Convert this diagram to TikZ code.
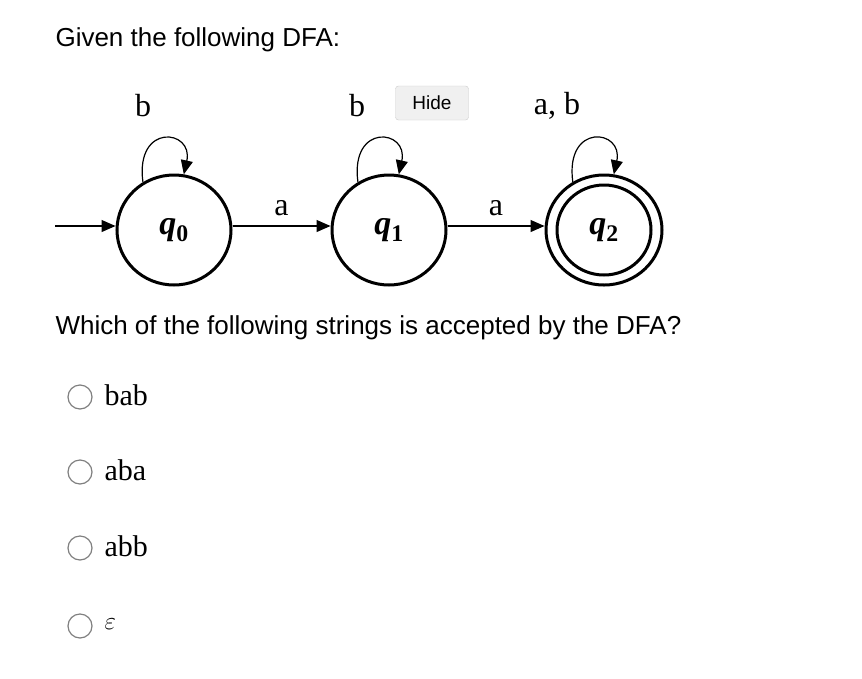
\documentclass[tikz,border=0pt]{standalone}
\usepackage{fontspec}
\setmainfont{Liberation Serif}
\newfontfamily\uisans{Liberation Sans}
\usetikzlibrary{arrows.meta,shapes.geometric}
\begin{document}
\begin{tikzpicture}[x=1pt,y=-1pt,
  st/.style={ellipse,draw,line width=3pt,minimum width=114pt,minimum height=110pt,inner sep=0pt,font=\fontsize{34}{34}\selectfont},
  edge/.style={-{Triangle[length=14pt,width=12pt]},line width=1.2pt},
  lab/.style={font=\fontsize{32}{32}\selectfont},
  hd/.style={font=\uisans\fontsize{26}{26}\selectfont,anchor=west},
  opt/.style={circle,draw=gray,line width=1.2pt,minimum size=24pt,inner sep=0pt},
  optl/.style={font=\fontsize{30}{30}\selectfont,anchor=west}]
\useasboundingbox (0,0) rectangle (862,678);
\fill[white] (0,0) rectangle (862,678);
\newcommand\qlab[1]{\textbf{\textit{q}}\textsubscript{\textbf{#1}}}
\node[hd] (t1) at (52,40) {Given the following DFA:};
\node[st] (q0) at (174,230) {\qlab{0}};
\node[st] (q1) at (389,230) {\qlab{1}};
\node[st,minimum width=116pt] (q2) at (604,230) {\qlab{2}};
\node[ellipse,draw,line width=3pt,minimum width=94pt,minimum height=90pt] (q2i) at (604,230) {};
\coordinate (s) at (55,226);
\draw[edge] (s) -- (q0.west |- s);
\draw[edge] (q0.east |- s) -- node[lab,above=6pt] {a} (q1.west |- s);
\draw[edge] (q1.east |- s) -- node[lab,above=6pt] {a} (q2.west |- s);
\foreach \q in {q0,q1,q2} {
  \draw[edge] (\q.123) .. controls +(-8,-60) and +(10,-45) .. (\q.80);
}
\node[lab] (l0) at (143,106) {b};
\node[lab] (l1) at (357,106) {b};
\node[lab] (l2) at (557,106) {a, b};
\node[draw=gray!40,fill=gray!12,rounded corners=3pt,minimum width=73pt,minimum height=34pt,font=\uisans\fontsize{19}{19}\selectfont] (hide) at (432,103) {Hide};
\node[hd] (t2) at (52,328) {Which of the following strings is accepted by the DFA?};
\foreach \y/\t [count=\i] in {397/bab,472/aba,548/abb,626/$\varepsilon$} {
  \node[opt] (o\i) at (80,\y) {};
  \node[optl] (ol\i) at (101,\y-2) {\t};
}
\end{tikzpicture}
\end{document}
